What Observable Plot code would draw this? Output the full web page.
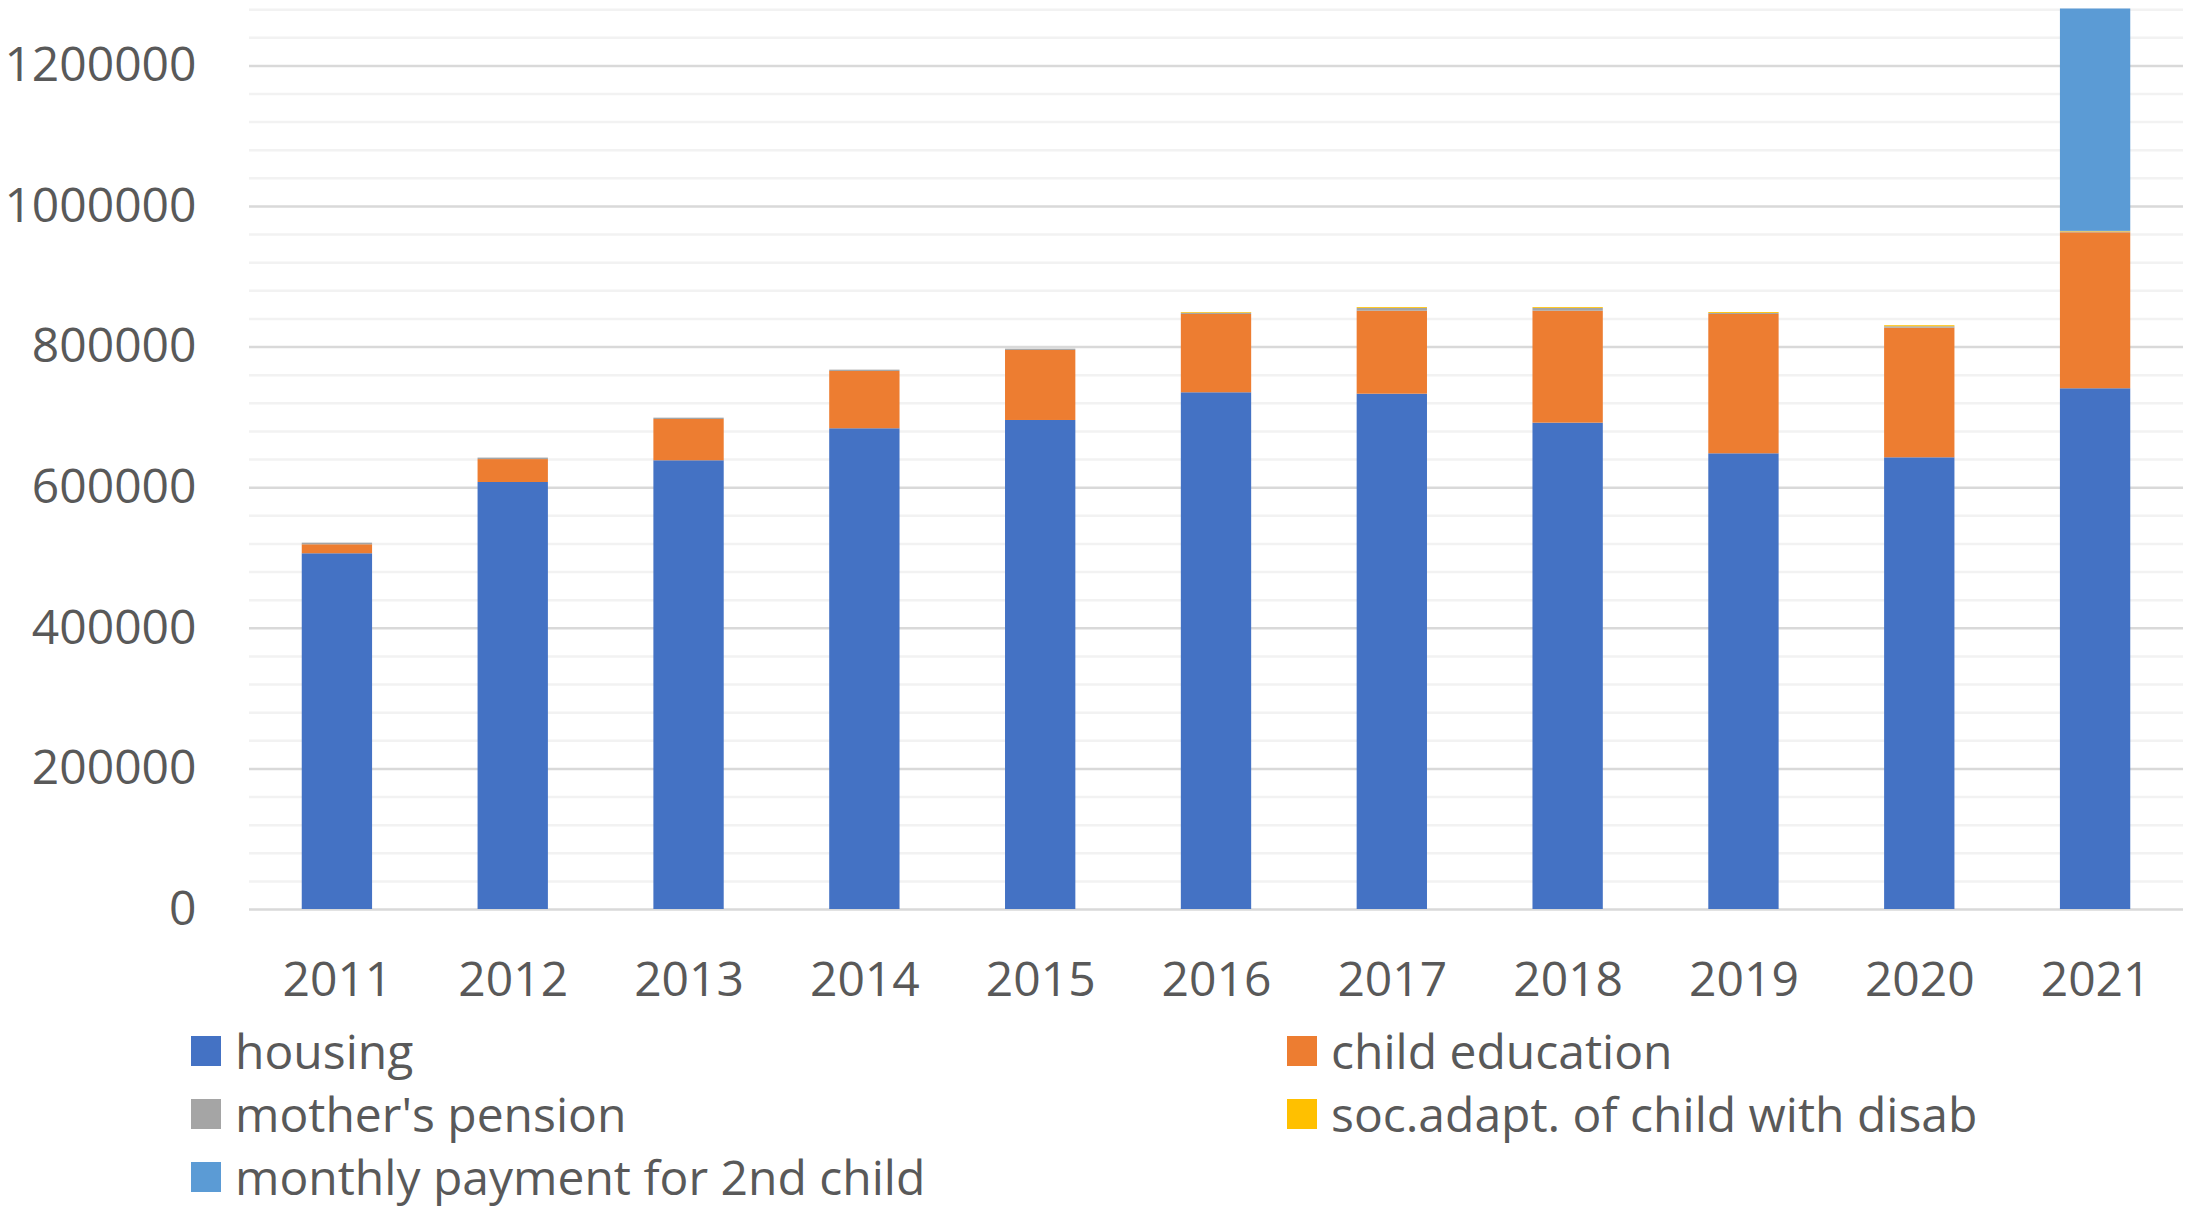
<!DOCTYPE html>
<html>
<head>
<meta charset="utf-8">
<script src="https://cdn.jsdelivr.net/npm/d3@7"></script>
<script src="https://cdn.jsdelivr.net/npm/@observablehq/plot@0.6"></script>
<style>
  html, body { margin: 0; padding: 0; background: #fff; }
  body { width: 2191px; height: 1212px; overflow: hidden; font-family: "Open Sans", sans-serif; color: #595959; }
  #legend { display: grid; grid-template-columns: 1096px auto; padding-left: 191px; }
  .item { display: flex; align-items: center; height: 63px; font-size: 48px; white-space: nowrap; }
  .sw { width: 30px; height: 30px; margin-right: 14px; flex: none; }
</style>
</head>
<body>
<div id="chart"></div>
<div id="legend"></div>
<script>
const years = ["2011","2012","2013","2014","2015","2016","2017","2018","2019","2020","2021"];
const seriesNames = ["housing", "child education", "mother's pension", "soc.adapt. of child with disab", "monthly payment for 2nd child"];
const seriesColors = ["#4472C4", "#ED7D31", "#A5A5A5", "#FFC000", "#5B9BD5"];

const housing         = [506000, 607400, 638300, 683800, 695600, 735000, 733000, 691800, 648200, 642500, 740700];
const childEducation  = [12800, 32600, 58700, 81500, 99600, 111400, 118000, 159200, 198200, 184400, 221900];
const mothersPension  = [2300, 2100, 1900, 1900, 1800, 1800, 4000, 4000, 1500, 2000, 1200];
const socAdapt        = [0, 0, 0, 0, 0, 1000, 1200, 1200, 1300, 1500, 800];
const monthlyPayment  = [0, 0, 0, 0, 0, 0, 0, 0, 0, 0, 316300];

const yTicks = [0, 200000, 400000, 600000, 800000, 1000000, 1200000];
const yMinorTicks = [40000, 80000, 120000, 160000, 240000, 280000, 320000, 360000, 440000, 480000, 520000, 560000,
  640000, 680000, 720000, 760000, 840000, 880000, 920000, 960000, 1040000, 1080000, 1120000, 1160000, 1240000, 1280000];

const seriesValues = [housing, childEducation, mothersPension, socAdapt, monthlyPayment];
const data = [];
seriesNames.forEach((s, i) => {
  years.forEach((y, j) => data.push({ year: y, series: s, value: seriesValues[i][j] }));
});

const chart = Plot.plot({
  width: 2191,
  height: 1019,
  marginLeft: 249,
  marginRight: 8,
  marginTop: 0,
  marginBottom: 110,
  style: { fontFamily: "Open Sans, sans-serif", fontSize: "48px", color: "#595959", background: "#fff" },
  x: { domain: years, paddingInner: 0.6, paddingOuter: 0.3, round: false, label: null },
  y: { domain: [0, 1293000], label: null },
  color: { domain: seriesNames, range: seriesColors },
  marks: [
    Plot.ruleY(yMinorTicks, { stroke: "#F2F2F2", strokeWidth: 2.5 }),
    Plot.ruleY(yTicks, { stroke: "#D9D9D9", strokeWidth: 2.5 }),
    Plot.barY(data, { x: "year", y: "value", fill: "series", order: seriesNames }),
    Plot.axisX({ tickSize: 0, tickPadding: 52, fontSize: 48, fill: "#595959", label: null }),
    Plot.axisY({ ticks: yTicks, tickSize: 0, tickPadding: 53, fontSize: 48, fill: "#595959", label: null, tickFormat: d => String(d) })
  ]
});
document.getElementById("chart").appendChild(chart);

const legend = document.getElementById("legend");
seriesNames.forEach((s, i) => {
  const item = document.createElement("div");
  item.className = "item";
  const sw = document.createElement("span");
  sw.className = "sw";
  sw.style.background = seriesColors[i];
  const t = document.createElement("span");
  t.textContent = s;
  item.appendChild(sw);
  item.appendChild(t);
  legend.appendChild(item);
});
</script>
</body>
</html>
